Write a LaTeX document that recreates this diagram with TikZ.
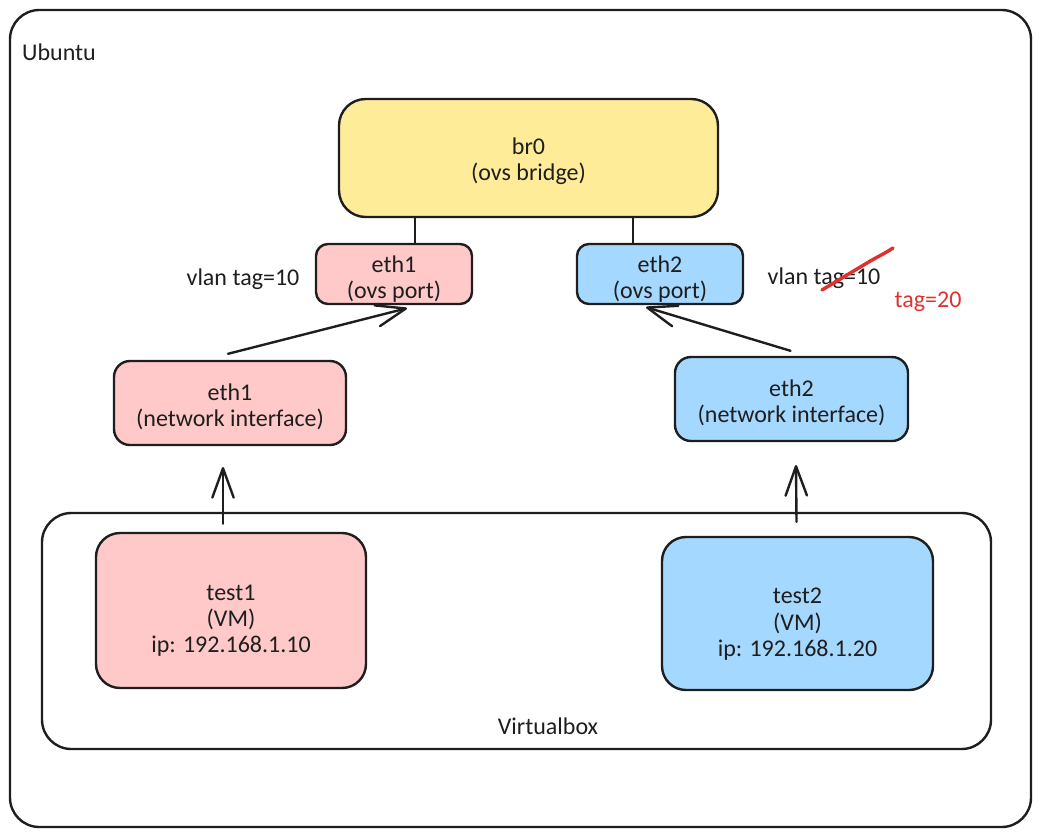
\documentclass[tikz,border=0pt]{standalone}
\usepackage{fontspec}
\setmainfont{Carlito}
\usetikzlibrary{arrows.meta}
\definecolor{ink}{HTML}{1E1E1E}
\definecolor{pinkfill}{HTML}{FFC9C9}
\definecolor{bluefill}{HTML}{A5D8FF}
\definecolor{yellowfill}{HTML}{FFEC99}
\definecolor{redpen}{HTML}{E03131}
\begin{document}
\begin{tikzpicture}
  [x=.75pt,y=-.75pt,line width=1.8pt,draw=ink,text=ink,
  every node/.style={font=\fontsize{18}{19.6}\selectfont,align=center},
  box/.style={draw=ink,rectangle,inner sep=0pt},
  drop/.style={text height=#1},
  link/.style={-{Straight Barb[length=22pt,width=16pt,round]},line cap=round}]
  \useasboundingbox (0,0) rectangle (1042,836);

  \node[box,rounded corners=22pt,minimum width=765.75pt,minimum height=612.75pt] (ubuntu) at (520.5,418.5) {};
  \node[box,rounded corners=22pt,minimum width=711.75pt,minimum height=177pt] (vbox) at (516.5,631) {};

  \node[box,drop=37.5pt,fill=yellowfill,rounded corners=20pt,minimum width=284.25pt,minimum height=88.5pt] (br0) at (528.5,158) {br0\\(ovs bridge)};
  \node[box,drop=40pt,fill=pinkfill,rounded corners=9pt,minimum width=117pt,minimum height=45pt] (port1) at (394,274) {eth1\\(ovs port)};
  \node[box,drop=40pt,fill=bluefill,rounded corners=9pt,minimum width=124.5pt,minimum height=45pt] (port2) at (660,274) {eth2\\(ovs port)};
  \node[box,drop=37.75pt,fill=pinkfill,rounded corners=12pt,minimum width=174pt,minimum height=63pt] (nic1) at (230,403) {eth1\\(network interface)};
  \node[box,drop=37.75pt,fill=bluefill,rounded corners=12pt,minimum width=174.75pt,minimum height=63pt] (nic2) at (791.5,399) {eth2\\(network interface)};
  \node[box,drop=66pt,fill=pinkfill,rounded corners=18pt,minimum width=202.5pt,minimum height=116.25pt] (test1) at (231,610.5) {test1\\(VM)\\ip: 192.168.1.10};
  \node[box,drop=67pt,fill=bluefill,rounded corners=18pt,minimum width=203.25pt,minimum height=114.75pt] (test2) at (797.5,613.5) {test2\\(VM)\\ip: 192.168.1.20};

  \node (ubuntulabel) at (59,52) {Ubuntu};
  \node (vboxlabel) at (548,726) {Virtualbox};
  \node (tag1) at (243,279) {vlan tag=10};
  \node (tag2) at (824,278) {vlan tag=10};
  \node[text=redpen] (tag3) at (928,302) {tag=20};

  \foreach \from/\to/\dx in {br0/port1/21,br0/port2/-27}
    \draw ([shift={(\dx,0)}]\to.north |- \from.south) -- ([shift={(\dx,0)}]\to.north);

  \draw[link] ([shift={(-2,-6)}]nic1.north) -- ([shift={(13,3)}]port1.south);
  \draw[link] ([shift={(-1,-5)}]nic2.north) -- ([shift={(-14,2)}]port2.south);
  \draw[link] ([shift={(-8,-8)}]test1.north) -- (223,467);
  \draw[link] ([shift={(-1,-14)}]test2.north) -- (796,465);

  \coordinate (strikea) at (822,290);
  \coordinate (strikeb) at (893,248);
  \draw[draw=redpen,line width=2.6pt,line cap=round] (strikea) -- (867,263) .. controls (875,258) and (884,254) .. (strikeb);
\end{tikzpicture}
\end{document}
